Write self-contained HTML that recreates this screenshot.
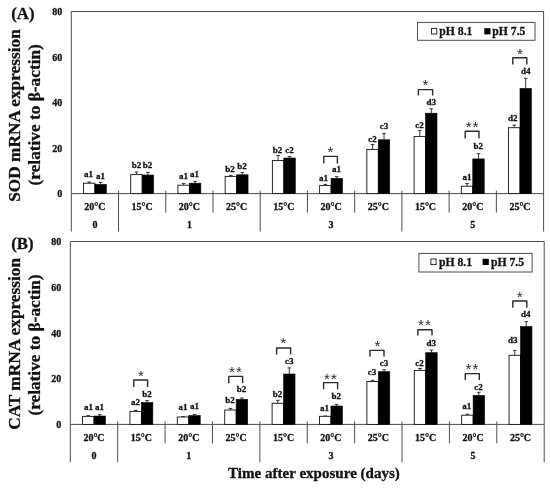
<!DOCTYPE html>
<html lang="en">
<head>
<meta charset="utf-8">
<title>SOD and CAT mRNA expression</title>
<style>
html,body{margin:0;padding:0;background:#fff;}
body{width:550px;height:488px;overflow:hidden;}
svg{display:block;}
.b text{stroke:#111;stroke-width:.28px;}
.c text,text.c{stroke:#111;stroke-width:.3px;}
</style>
</head>
<body>
<svg width="550" height="488" viewBox="0 0 550 488">
<rect width="550" height="488" fill="#fff"/>
<g stroke="#4d4d4d" stroke-width="1" fill="none">
<path d="M71.3 231.6V11.5H543.6V231.6"/>
<path d="M71.3 193.6H543.6"/>
<path d="M118.53 190.6V231.6"/>
<path d="M165.76 190.6V212.6"/>
<path d="M212.99 190.6V212.6"/>
<path d="M260.22 190.6V231.6"/>
<path d="M307.45 190.6V212.6"/>
<path d="M354.68 190.6V212.6"/>
<path d="M401.91 190.6V231.6"/>
<path d="M449.14 190.6V212.6"/>
<path d="M496.37 190.6V212.6"/>
</g>
<g font-family='"Liberation Serif", "DejaVu Serif", serif' font-weight="bold" font-size="10" text-anchor="end" fill="#111" class="b">
<text x="62.25" y="197.2">0</text>
<text x="62.25" y="151.7">20</text>
<text x="62.25" y="106.1">40</text>
<text x="62.25" y="60.6">60</text>
<text x="62.25" y="15.1">80</text>
</g>
<g stroke="#222" stroke-width="0.9" fill="none">
<path d="M89.19 183.2V182.0M87.39 182.0H90.99"/>
<path d="M100.64 184.4V182.4M98.84 182.4H102.44"/>
</g>
<rect x="83.46" y="183.2" width="11.45" height="10.40" fill="#fff" stroke="#111" stroke-width="0.9"/>
<rect x="94.91" y="184.4" width="11.45" height="9.20" fill="#000" stroke="#000" stroke-width="0.6"/>
<g font-family='"Liberation Serif", "DejaVu Serif", serif' font-weight="bold" font-size="9" text-anchor="middle" fill="#111" class="b">
<text x="88.6" y="177">a1</text>
<text x="100.4" y="179">a1</text>
</g>
<g stroke="#222" stroke-width="0.9" fill="none">
<path d="M136.42 174.6V172.0M134.62 172.0H138.22"/>
<path d="M147.87 175.0V172.4M146.07 172.4H149.67"/>
</g>
<rect x="130.70" y="174.6" width="11.45" height="19.00" fill="#fff" stroke="#111" stroke-width="0.9"/>
<rect x="142.15" y="175.0" width="11.45" height="18.60" fill="#000" stroke="#000" stroke-width="0.6"/>
<g font-family='"Liberation Serif", "DejaVu Serif", serif' font-weight="bold" font-size="9" text-anchor="middle" fill="#111" class="b">
<text x="136.4" y="168">b2</text>
<text x="147.6" y="168">b2</text>
</g>
<g stroke="#222" stroke-width="0.9" fill="none">
<path d="M183.65 185.2V183.4M181.85 183.4H185.45"/>
<path d="M195.10 183.2V181.4M193.30 181.4H196.90"/>
</g>
<rect x="177.93" y="185.2" width="11.45" height="8.40" fill="#fff" stroke="#111" stroke-width="0.9"/>
<rect x="189.38" y="183.2" width="11.45" height="10.40" fill="#000" stroke="#000" stroke-width="0.6"/>
<g font-family='"Liberation Serif", "DejaVu Serif", serif' font-weight="bold" font-size="9" text-anchor="middle" fill="#111" class="b">
<text x="183.4" y="179">a1</text>
<text x="194.6" y="177">a1</text>
</g>
<g stroke="#222" stroke-width="0.9" fill="none">
<path d="M230.88 176.4V175.4M229.08 175.4H232.68"/>
<path d="M242.33 174.8V172.6M240.53 172.6H244.13"/>
</g>
<rect x="225.16" y="176.4" width="11.45" height="17.20" fill="#fff" stroke="#111" stroke-width="0.9"/>
<rect x="236.61" y="174.8" width="11.45" height="18.80" fill="#000" stroke="#000" stroke-width="0.6"/>
<g font-family='"Liberation Serif", "DejaVu Serif", serif' font-weight="bold" font-size="9" text-anchor="middle" fill="#111" class="b">
<text x="230" y="171.6">b2</text>
<text x="242" y="168.6">b2</text>
</g>
<g stroke="#222" stroke-width="0.9" fill="none">
<path d="M278.11 160.6V155.6M276.31 155.6H279.91"/>
<path d="M289.56 158.0V156.6M287.76 156.6H291.36"/>
</g>
<rect x="272.39" y="160.6" width="11.45" height="33.00" fill="#fff" stroke="#111" stroke-width="0.9"/>
<rect x="283.84" y="158.0" width="11.45" height="35.60" fill="#000" stroke="#000" stroke-width="0.6"/>
<g font-family='"Liberation Serif", "DejaVu Serif", serif' font-weight="bold" font-size="9" text-anchor="middle" fill="#111" class="b">
<text x="277.6" y="152.6">b2</text>
<text x="289.4" y="152.6">c2</text>
</g>
<g stroke="#222" stroke-width="0.9" fill="none">
<path d="M325.34 185.6V184.4M323.54 184.4H327.14"/>
<path d="M336.79 178.4V176.6M334.99 176.6H338.59"/>
</g>
<rect x="319.62" y="185.6" width="11.45" height="8.00" fill="#fff" stroke="#111" stroke-width="0.9"/>
<rect x="331.07" y="178.4" width="11.45" height="15.20" fill="#000" stroke="#000" stroke-width="0.6"/>
<g font-family='"Liberation Serif", "DejaVu Serif", serif' font-weight="bold" font-size="9" text-anchor="middle" fill="#111" class="b">
<text x="323.6" y="180.6">a1</text>
<text x="336.4" y="172">a1</text>
</g>
<path d="M323.8 163.6V156.4H337.4V163.6" fill="none" stroke="#2a2a2a" stroke-width="1.4" stroke-linejoin="round"/>
<text x="331.0" y="157.3" font-family='"Liberation Sans", "DejaVu Sans", sans-serif' font-size="15.2" text-anchor="middle" fill="#2a2a2a" letter-spacing="1">*</text>
<g stroke="#222" stroke-width="0.9" fill="none">
<path d="M372.57 149.4V144.5M370.77 144.5H374.37"/>
<path d="M384.02 139.8V133.4M382.22 133.4H385.82"/>
</g>
<rect x="366.85" y="149.4" width="11.45" height="44.20" fill="#fff" stroke="#111" stroke-width="0.9"/>
<rect x="378.30" y="139.8" width="11.45" height="53.80" fill="#000" stroke="#000" stroke-width="0.6"/>
<g font-family='"Liberation Serif", "DejaVu Serif", serif' font-weight="bold" font-size="9" text-anchor="middle" fill="#111" class="b">
<text x="372.6" y="141.5">c2</text>
<text x="384" y="129.2">c3</text>
</g>
<g stroke="#222" stroke-width="0.9" fill="none">
<path d="M419.80 136.6V130.4M418.00 130.4H421.60"/>
<path d="M431.25 113.2V108.8M429.45 108.8H433.05"/>
</g>
<rect x="414.08" y="136.6" width="11.45" height="57.00" fill="#fff" stroke="#111" stroke-width="0.9"/>
<rect x="425.53" y="113.2" width="11.45" height="80.40" fill="#000" stroke="#000" stroke-width="0.6"/>
<g font-family='"Liberation Serif", "DejaVu Serif", serif' font-weight="bold" font-size="9" text-anchor="middle" fill="#111" class="b">
<text x="419.4" y="127.5">c2</text>
<text x="431.2" y="105.1">d3</text>
</g>
<path d="M418.4 95.6V89.6H432.6V95.6" fill="none" stroke="#2a2a2a" stroke-width="1.4" stroke-linejoin="round"/>
<text x="425.9" y="90.1" font-family='"Liberation Sans", "DejaVu Sans", sans-serif' font-size="15.2" text-anchor="middle" fill="#2a2a2a" letter-spacing="1">*</text>
<g stroke="#222" stroke-width="0.9" fill="none">
<path d="M467.03 186.2V183.6M465.23 183.6H468.83"/>
<path d="M478.48 158.9V153.6M476.68 153.6H480.28"/>
</g>
<rect x="461.31" y="186.2" width="11.45" height="7.40" fill="#fff" stroke="#111" stroke-width="0.9"/>
<rect x="472.76" y="158.9" width="11.45" height="34.70" fill="#000" stroke="#000" stroke-width="0.6"/>
<g font-family='"Liberation Serif", "DejaVu Serif", serif' font-weight="bold" font-size="9" text-anchor="middle" fill="#111" class="b">
<text x="467" y="180.3">a1</text>
<text x="478.2" y="149.3">b2</text>
</g>
<path d="M465.2 138.6V131.3H479.0V138.6" fill="none" stroke="#2a2a2a" stroke-width="1.4" stroke-linejoin="round"/>
<text x="472.6" y="132.1" font-family='"Liberation Sans", "DejaVu Sans", sans-serif' font-size="15.2" text-anchor="middle" fill="#2a2a2a" letter-spacing="1">**</text>
<g stroke="#222" stroke-width="0.9" fill="none">
<path d="M514.26 127.7V125.1M512.46 125.1H516.06"/>
<path d="M525.71 88.4V78.3M523.91 78.3H527.51"/>
</g>
<rect x="508.54" y="127.7" width="11.45" height="65.90" fill="#fff" stroke="#111" stroke-width="0.9"/>
<rect x="519.99" y="88.4" width="11.45" height="105.20" fill="#000" stroke="#000" stroke-width="0.6"/>
<g font-family='"Liberation Serif", "DejaVu Serif", serif' font-weight="bold" font-size="9" text-anchor="middle" fill="#111" class="b">
<text x="512.7" y="121.2">d2</text>
<text x="525.8" y="74.4">d4</text>
</g>
<path d="M512.8 64.4V57.8H526.8V64.4" fill="none" stroke="#2a2a2a" stroke-width="1.4" stroke-linejoin="round"/>
<text x="520.4" y="58.5" font-family='"Liberation Sans", "DejaVu Sans", sans-serif' font-size="15.2" text-anchor="middle" fill="#2a2a2a" letter-spacing="1">*</text>
<g font-family='"Liberation Serif", "DejaVu Serif", serif' font-weight="bold" font-size="10" text-anchor="middle" fill="#111" class="b">
<text x="94.9" y="210.4">20°C</text>
<text x="142.1" y="210.4">15°C</text>
<text x="189.4" y="210.4">20°C</text>
<text x="236.6" y="210.4">25°C</text>
<text x="283.8" y="210.4">15°C</text>
<text x="331.1" y="210.4">20°C</text>
<text x="378.3" y="210.4">25°C</text>
<text x="425.5" y="210.4">15°C</text>
<text x="472.8" y="210.4">20°C</text>
<text x="520.0" y="210.4">25°C</text>
<text x="94.9" y="228.2">0</text>
<text x="189.4" y="228.2">1</text>
<text x="331.1" y="228.2">3</text>
<text x="472.8" y="228.2">5</text>
</g>
<rect x="417.5" y="22.4" width="117.5" height="17.9" fill="#fff" stroke="#4d4d4d" stroke-width="1"/>
<rect x="431.6" y="28.4" width="5.2" height="5.6" fill="#fff" stroke="#111" stroke-width="0.9"/>
<rect x="484.3" y="28.2" width="6.2" height="6.2" fill="#000"/>
<g font-family='"Liberation Serif", "DejaVu Serif", serif' font-weight="bold" font-size="11.7" fill="#111" class="b">
<text x="439.3" y="35.0">pH 8.1</text>
<text x="492.3" y="35.0">pH 7.5</text>
</g>
<text x="11.2" y="19.2" font-family='"Liberation Serif", "DejaVu Serif", serif' font-weight="bold" font-size="16.8" fill="#111" class="c">(A)</text>
<g font-family='"Liberation Serif", "DejaVu Serif", serif' font-weight="bold" font-size="17.3" text-anchor="middle" fill="#111" class="c">
<text transform="translate(20.3 115.5) rotate(-90)">SOD mRNA expression</text>
<text transform="translate(40.3 114.8) rotate(-90)">(relative to β-actin)</text>
</g>
<g stroke="#4d4d4d" stroke-width="1" fill="none">
<path d="M70.3 462.4V241.5H544.2V462.4"/>
<path d="M70.3 424.4H544.2"/>
<path d="M117.69 421.4V462.4"/>
<path d="M165.08 421.4V443.4"/>
<path d="M212.47 421.4V443.4"/>
<path d="M259.86 421.4V462.4"/>
<path d="M307.25 421.4V443.4"/>
<path d="M354.64 421.4V443.4"/>
<path d="M402.03 421.4V462.4"/>
<path d="M449.42 421.4V443.4"/>
<path d="M496.81 421.4V443.4"/>
</g>
<g font-family='"Liberation Serif", "DejaVu Serif", serif' font-weight="bold" font-size="10" text-anchor="end" fill="#111" class="b">
<text x="61.25" y="428.0">0</text>
<text x="61.25" y="382.3">20</text>
<text x="61.25" y="336.6">40</text>
<text x="61.25" y="290.8">60</text>
<text x="61.25" y="245.1">80</text>
</g>
<g stroke="#222" stroke-width="0.9" fill="none">
<path d="M88.27 416.4V415.6M86.47 415.6H90.07"/>
<path d="M99.72 416.0V414.6M97.92 414.6H101.52"/>
</g>
<rect x="82.55" y="416.4" width="11.45" height="8.00" fill="#fff" stroke="#111" stroke-width="0.9"/>
<rect x="94.00" y="416.0" width="11.45" height="8.40" fill="#000" stroke="#000" stroke-width="0.6"/>
<g font-family='"Liberation Serif", "DejaVu Serif", serif' font-weight="bold" font-size="9" text-anchor="middle" fill="#111" class="b">
<text x="88.6" y="410">a1</text>
<text x="99.4" y="410">a1</text>
</g>
<g stroke="#222" stroke-width="0.9" fill="none">
<path d="M135.66 411.4V410.4M133.86 410.4H137.46"/>
<path d="M147.11 402.6V400.6M145.31 400.6H148.91"/>
</g>
<rect x="129.94" y="411.4" width="11.45" height="13.00" fill="#fff" stroke="#111" stroke-width="0.9"/>
<rect x="141.38" y="402.6" width="11.45" height="21.80" fill="#000" stroke="#000" stroke-width="0.6"/>
<g font-family='"Liberation Serif", "DejaVu Serif", serif' font-weight="bold" font-size="9" text-anchor="middle" fill="#111" class="b">
<text x="135.4" y="405">a2</text>
<text x="147" y="397">b2</text>
</g>
<path d="M133.8 387.0V380.0H147.6V387.0" fill="none" stroke="#2a2a2a" stroke-width="1.4" stroke-linejoin="round"/>
<text x="141.4" y="380.9" font-family='"Liberation Sans", "DejaVu Sans", sans-serif' font-size="15.2" text-anchor="middle" fill="#2a2a2a" letter-spacing="1">*</text>
<g stroke="#222" stroke-width="0.9" fill="none">
<path d="M183.05 417.0V416.6M181.25 416.6H184.85"/>
<path d="M194.50 415.6V414.4M192.70 414.4H196.30"/>
</g>
<rect x="177.32" y="417.0" width="11.45" height="7.40" fill="#fff" stroke="#111" stroke-width="0.9"/>
<rect x="188.77" y="415.6" width="11.45" height="8.80" fill="#000" stroke="#000" stroke-width="0.6"/>
<g font-family='"Liberation Serif", "DejaVu Serif", serif' font-weight="bold" font-size="9" text-anchor="middle" fill="#111" class="b">
<text x="183" y="410.4">a1</text>
<text x="194.4" y="409.4">a1</text>
</g>
<g stroke="#222" stroke-width="0.9" fill="none">
<path d="M230.44 410.0V408.4M228.64 408.4H232.24"/>
<path d="M241.89 399.4V398.0M240.09 398.0H243.69"/>
</g>
<rect x="224.72" y="410.0" width="11.45" height="14.40" fill="#fff" stroke="#111" stroke-width="0.9"/>
<rect x="236.17" y="399.4" width="11.45" height="25.00" fill="#000" stroke="#000" stroke-width="0.6"/>
<g font-family='"Liberation Serif", "DejaVu Serif", serif' font-weight="bold" font-size="9" text-anchor="middle" fill="#111" class="b">
<text x="230" y="403.4">b2</text>
<text x="241.6" y="392.4">b2</text>
</g>
<path d="M228.8 383.2V376.4H242.6V383.2" fill="none" stroke="#2a2a2a" stroke-width="1.4" stroke-linejoin="round"/>
<text x="236.0" y="376.5" font-family='"Liberation Sans", "DejaVu Sans", sans-serif' font-size="15.2" text-anchor="middle" fill="#2a2a2a" letter-spacing="1">**</text>
<g stroke="#222" stroke-width="0.9" fill="none">
<path d="M277.83 403.3V400.3M276.03 400.3H279.63"/>
<path d="M289.28 374.0V367.9M287.48 367.9H291.08"/>
</g>
<rect x="272.11" y="403.3" width="11.45" height="21.10" fill="#fff" stroke="#111" stroke-width="0.9"/>
<rect x="283.56" y="374.0" width="11.45" height="50.40" fill="#000" stroke="#000" stroke-width="0.6"/>
<g font-family='"Liberation Serif", "DejaVu Serif", serif' font-weight="bold" font-size="9" text-anchor="middle" fill="#111" class="b">
<text x="277.5" y="397">b2</text>
<text x="289.3" y="363.8">c3</text>
</g>
<path d="M276.6 354.4V348.0H290.6V354.4" fill="none" stroke="#2a2a2a" stroke-width="1.4" stroke-linejoin="round"/>
<text x="283.6" y="348.2" font-family='"Liberation Sans", "DejaVu Sans", sans-serif' font-size="15.2" text-anchor="middle" fill="#2a2a2a" letter-spacing="1">*</text>
<g stroke="#222" stroke-width="0.9" fill="none">
<path d="M325.22 416.3V416.0M323.42 416.0H327.02"/>
<path d="M336.67 406.0V404.4M334.87 404.4H338.47"/>
</g>
<rect x="319.50" y="416.3" width="11.45" height="8.10" fill="#fff" stroke="#111" stroke-width="0.9"/>
<rect x="330.94" y="406.0" width="11.45" height="18.40" fill="#000" stroke="#000" stroke-width="0.6"/>
<g font-family='"Liberation Serif", "DejaVu Serif", serif' font-weight="bold" font-size="9" text-anchor="middle" fill="#111" class="b">
<text x="324.4" y="410.7">a1</text>
<text x="336.2" y="398.8">b2</text>
</g>
<path d="M323.6 389.2V382.6H337.6V389.2" fill="none" stroke="#2a2a2a" stroke-width="1.4" stroke-linejoin="round"/>
<text x="330.9" y="383.6" font-family='"Liberation Sans", "DejaVu Sans", sans-serif' font-size="15.2" text-anchor="middle" fill="#2a2a2a" letter-spacing="1">**</text>
<g stroke="#222" stroke-width="0.9" fill="none">
<path d="M372.61 381.5V380.3M370.81 380.3H374.41"/>
<path d="M384.06 371.7V369.7M382.26 369.7H385.86"/>
</g>
<rect x="366.89" y="381.5" width="11.45" height="42.90" fill="#fff" stroke="#111" stroke-width="0.9"/>
<rect x="378.34" y="371.7" width="11.45" height="52.70" fill="#000" stroke="#000" stroke-width="0.6"/>
<g font-family='"Liberation Serif", "DejaVu Serif", serif' font-weight="bold" font-size="9" text-anchor="middle" fill="#111" class="b">
<text x="372.1" y="375.4">c3</text>
<text x="384" y="366">c3</text>
</g>
<path d="M370.0 356.4V350.4H384.0V356.4" fill="none" stroke="#2a2a2a" stroke-width="1.4" stroke-linejoin="round"/>
<text x="378.0" y="350.8" font-family='"Liberation Sans", "DejaVu Sans", sans-serif' font-size="15.2" text-anchor="middle" fill="#2a2a2a" letter-spacing="1">*</text>
<g stroke="#222" stroke-width="0.9" fill="none">
<path d="M420.00 370.4V368.5M418.20 368.5H421.80"/>
<path d="M431.45 352.7V350.0M429.65 350.0H433.25"/>
</g>
<rect x="414.28" y="370.4" width="11.45" height="54.00" fill="#fff" stroke="#111" stroke-width="0.9"/>
<rect x="425.73" y="352.7" width="11.45" height="71.70" fill="#000" stroke="#000" stroke-width="0.6"/>
<g font-family='"Liberation Serif", "DejaVu Serif", serif' font-weight="bold" font-size="9" text-anchor="middle" fill="#111" class="b">
<text x="419.6" y="365.5">c2</text>
<text x="431.2" y="345.8">d3</text>
</g>
<path d="M417.9 335.6V329.8H432.0V335.6" fill="none" stroke="#2a2a2a" stroke-width="1.4" stroke-linejoin="round"/>
<text x="425.0" y="330.1" font-family='"Liberation Sans", "DejaVu Sans", sans-serif' font-size="15.2" text-anchor="middle" fill="#2a2a2a" letter-spacing="1">**</text>
<g stroke="#222" stroke-width="0.9" fill="none">
<path d="M467.39 415.2V414.2M465.59 414.2H469.19"/>
<path d="M478.84 395.5V392.3M477.04 392.3H480.64"/>
</g>
<rect x="461.67" y="415.2" width="11.45" height="9.20" fill="#fff" stroke="#111" stroke-width="0.9"/>
<rect x="473.12" y="395.5" width="11.45" height="28.90" fill="#000" stroke="#000" stroke-width="0.6"/>
<g font-family='"Liberation Serif", "DejaVu Serif", serif' font-weight="bold" font-size="9" text-anchor="middle" fill="#111" class="b">
<text x="466.8" y="408.6">a1</text>
<text x="478.6" y="389.7">c2</text>
</g>
<path d="M465.3 380.0V373.6H479.3V380.0" fill="none" stroke="#2a2a2a" stroke-width="1.4" stroke-linejoin="round"/>
<text x="472.4" y="374.3" font-family='"Liberation Sans", "DejaVu Sans", sans-serif' font-size="15.2" text-anchor="middle" fill="#2a2a2a" letter-spacing="1">**</text>
<g stroke="#222" stroke-width="0.9" fill="none">
<path d="M514.78 355.3V350.4M512.98 350.4H516.58"/>
<path d="M526.23 326.5V321.6M524.43 321.6H528.03"/>
</g>
<rect x="509.06" y="355.3" width="11.45" height="69.10" fill="#fff" stroke="#111" stroke-width="0.9"/>
<rect x="520.50" y="326.5" width="11.45" height="97.90" fill="#000" stroke="#000" stroke-width="0.6"/>
<g font-family='"Liberation Serif", "DejaVu Serif", serif' font-weight="bold" font-size="9" text-anchor="middle" fill="#111" class="b">
<text x="512.7" y="343.2">d3</text>
<text x="525.8" y="316.7">d4</text>
</g>
<path d="M512.8 307.8V301.0H526.8V307.8" fill="none" stroke="#2a2a2a" stroke-width="1.4" stroke-linejoin="round"/>
<text x="520.3" y="301.6" font-family='"Liberation Sans", "DejaVu Sans", sans-serif' font-size="15.2" text-anchor="middle" fill="#2a2a2a" letter-spacing="1">*</text>
<g font-family='"Liberation Serif", "DejaVu Serif", serif' font-weight="bold" font-size="10" text-anchor="middle" fill="#111" class="b">
<text x="94.0" y="441.2">20°C</text>
<text x="141.4" y="441.2">15°C</text>
<text x="188.8" y="441.2">20°C</text>
<text x="236.2" y="441.2">25°C</text>
<text x="283.6" y="441.2">15°C</text>
<text x="330.9" y="441.2">20°C</text>
<text x="378.3" y="441.2">25°C</text>
<text x="425.7" y="441.2">15°C</text>
<text x="473.1" y="441.2">20°C</text>
<text x="520.5" y="441.2">25°C</text>
<text x="94.0" y="459.0">0</text>
<text x="188.8" y="459.0">1</text>
<text x="330.9" y="459.0">3</text>
<text x="473.1" y="459.0">5</text>
</g>
<rect x="418.9" y="253.4" width="113.2" height="18.6" fill="#fff" stroke="#4d4d4d" stroke-width="1"/>
<rect x="430.9" y="259.0" width="5.2" height="5.6" fill="#fff" stroke="#111" stroke-width="0.9"/>
<rect x="482.6" y="258.8" width="6.2" height="6.2" fill="#000"/>
<g font-family='"Liberation Serif", "DejaVu Serif", serif' font-weight="bold" font-size="11.7" fill="#111" class="b">
<text x="438.9" y="265.6">pH 8.1</text>
<text x="491.0" y="265.6">pH 7.5</text>
</g>
<text x="11.2" y="249.2" font-family='"Liberation Serif", "DejaVu Serif", serif' font-weight="bold" font-size="16.8" fill="#111" class="c">(B)</text>
<g font-family='"Liberation Serif", "DejaVu Serif", serif' font-weight="bold" font-size="17.3" text-anchor="middle" fill="#111" class="c">
<text transform="translate(20.3 343.9) rotate(-90)">CAT mRNA expression</text>
<text transform="translate(40.3 345.0) rotate(-90)">(relative to β-actin)</text>
</g>
<text x="314" y="478.2" font-family='"Liberation Serif", "DejaVu Serif", serif' font-weight="bold" font-size="15.05" text-anchor="middle" fill="#111" class="c">Time after exposure (days)</text>
</svg>
</body>
</html>
